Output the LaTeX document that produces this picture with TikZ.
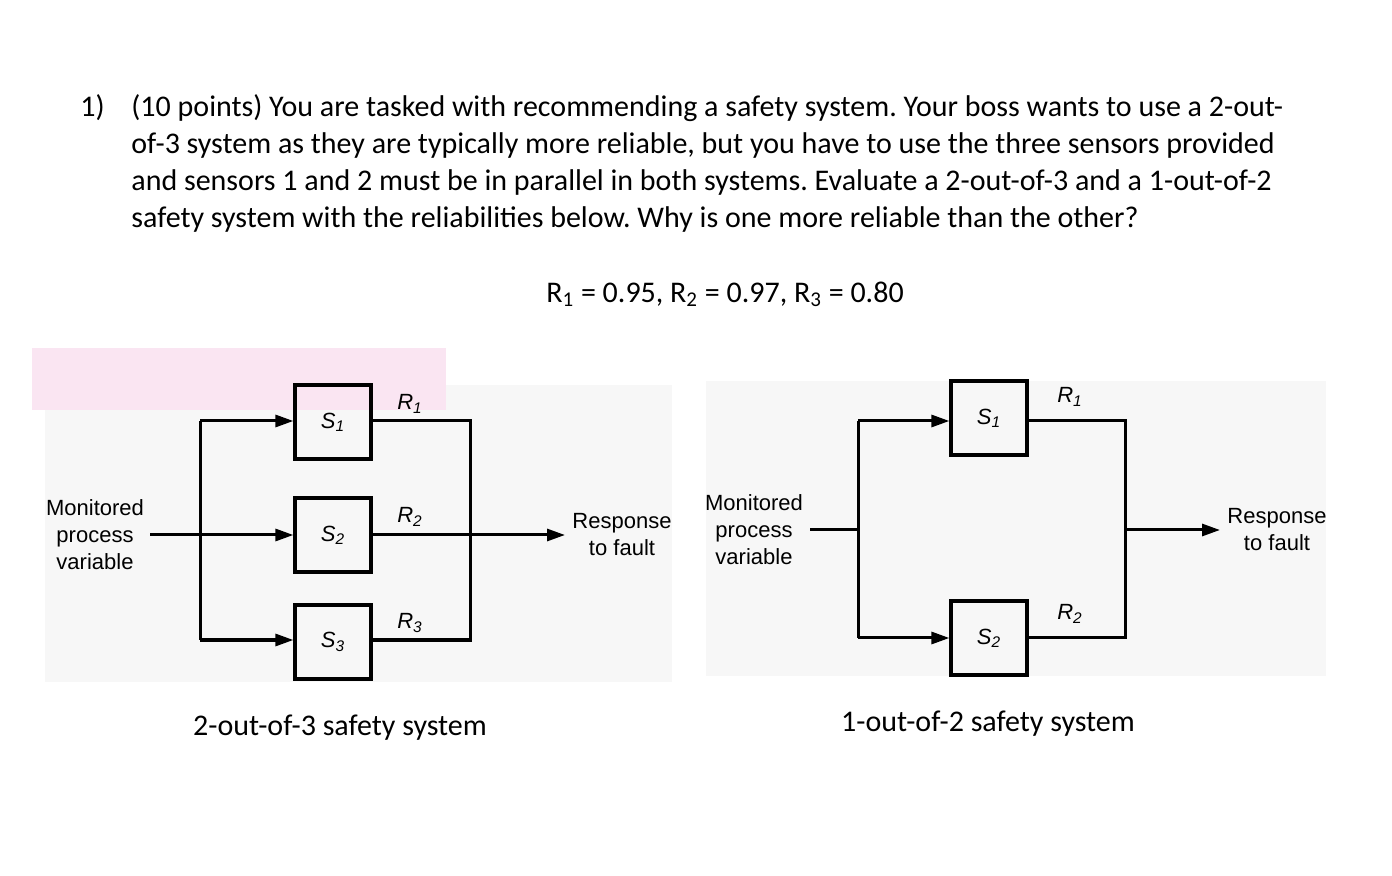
\documentclass[tikz,border=0pt]{standalone}
\usepackage{fontspec}
\setmainfont{Carlito}
\newfontfamily\arialf{Liberation Sans}
\usetikzlibrary{arrows.meta}
\definecolor{hlpink}{rgb}{0.98,0.9,0.95}
\begin{document}
\frenchspacing
\begin{tikzpicture}[x=0.5pt,y=-0.5pt,>={Triangle[length=9pt,width=6pt]},
  sensor/.style={draw,line width=1.6pt,minimum width=38pt,minimum height=37pt,font=\arialf\fontsize{11}{13}\selectfont\itshape},
  wire/.style={line width=1.5pt},
  lbl/.style={font=\arialf\fontsize{11}{13.5}\selectfont,align=center},
  rlbl/.style={font=\arialf\fontsize{11}{13}\selectfont\itshape},
  qtext/.style={anchor=west,inner sep=0pt,font=\fontsize{15}{18}\selectfont}]
  \useasboundingbox (0,0) rectangle (1392,876);
  % faint backgrounds
  \fill[black!3] (45,385) rectangle (672,682);
  \fill[black!3] (706,381) rectangle (1326,676);
  \fill[hlpink] (32,348) rectangle (446,410);

  % question
  \node[qtext] (q0) at (80,108) {1)};
  \node[qtext] (q1) at (131,108) {(10 points) You are tasked with recommending a safety system. Your boss wants to use a 2-out-};
  \node[qtext] (q2) at (131,146) {of-3 system as they are typically more reliable, but you have to use the three sensors provided};
  \node[qtext] (q3) at (131,183) {and sensors 1 and 2 must be in parallel in both systems. Evaluate a 2-out-of-3 and a 1-out-of-2};
  \node[qtext] (q4) at (131,220) {safety system with the reliabilities below. Why is one more reliable than the other?};
  \node[font=\fontsize{15}{18}\selectfont] (rel) at (725,294) {R\textsubscript{1} = 0.95, R\textsubscript{2} = 0.97, R\textsubscript{3} = 0.80};

  % 2-out-of-3
  \node[lbl] (in1) at (95,535) {Monitored\\process\\variable};
  \node[sensor] (s1) at (333,422) {S\textsubscript{1}};
  \node[sensor] (s2) at (333,535) {S\textsubscript{2}};
  \node[sensor] (s3) at (333,642) {S\textsubscript{3}};
  \coordinate (ja) at (200,535);
  \coordinate (jb) at (470,535);
  \node[lbl] (out1) at (622,535) {Response\\to fault};
  \draw[wire] (150,535) -- (ja);
  \draw[wire] (200,421) -- (200,640);
  \draw[wire,->] (200,421) -- (s1.west |- 0,421);
  \draw[wire,->] (ja) -- (s2);
  \draw[wire,->] (200,640) -- (s3.west |- 0,640);
  \draw[wire] (s1.east |- 0,421) -- (470,421) -- (470,640) -- (s3.east |- 0,640);
  \draw[wire] (s2) -- (jb);
  \draw[wire,->] (jb) -- (565,535);
  \node[rlbl] (r1) at (410,404) {R\textsubscript{1}};
  \node[rlbl] (r2) at (410,517) {R\textsubscript{2}};
  \node[rlbl] (r3) at (410,623) {R\textsubscript{3}};
  \node[font=\fontsize{15}{18}\selectfont] (cap1) at (340,728) {2-out-of-3 safety system};

  % 1-out-of-2
  \node[lbl] (in2) at (754,530) {Monitored\\process\\variable};
  \node[sensor] (t1) at (989,418) {S\textsubscript{1}};
  \node[sensor] (t2) at (989,638) {S\textsubscript{2}};
  \coordinate (jc) at (858,530);
  \coordinate (jd) at (1125,530);
  \node[lbl] (out2) at (1277,530) {Response\\to fault};
  \draw[wire] (810,530) -- (jc);
  \draw[wire] (858,421) -- (858,638);
  \draw[wire,->] (858,421) -- (t1.west |- 0,421);
  \draw[wire,->] (858,638) -- (t2);
  \draw[wire] (t1.east |- 0,421) -- (1125,421) -- (1125,638) -- (t2);
  \draw[wire,->] (jd) -- (1220,530);
  \node[rlbl] (u1) at (1070,397) {R\textsubscript{1}};
  \node[rlbl] (u2) at (1070,614) {R\textsubscript{2}};
  \node[font=\fontsize{15}{18}\selectfont] (cap2) at (988,724) {1-out-of-2 safety system};
\end{tikzpicture}
\end{document}
